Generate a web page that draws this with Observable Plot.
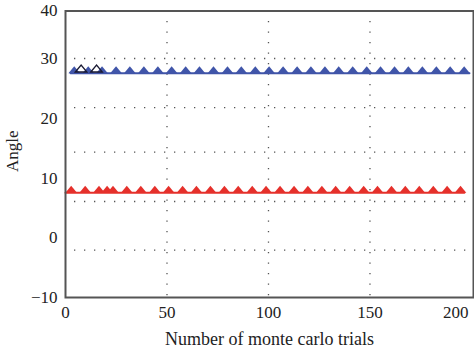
<!DOCTYPE html>
<html><head><meta charset="utf-8">
<script src="https://cdn.jsdelivr.net/npm/d3@7"></script>
<script src="https://cdn.jsdelivr.net/npm/@observablehq/plot@0.6"></script>
<style>body{margin:0;background:#fff} svg{display:block} svg text{font-family:'Liberation Serif','DejaVu Serif',serif}</style>
</head><body><div id="chart"></div>
<script>
// x tick labels and y tick labels
const xTicks = [0, 50, 100, 150];
const xLastTick = [200];
const yTicks = [-10, 0, 10, 20, 30, 40];
// dotted grid positions (as drawn in the reference)
const xGrid = [50, 100, 150];
const yGrid = [30, 21.8, 14.4, 6.1, -2.1];

// series: blue (triangle markers)
const blueTrials = [4.3, 11.2, 18.0, 24.9, 31.7, 38.6, 45.5, 52.3, 59.2, 66.0, 72.9, 79.8, 86.6, 93.5, 100.3, 107.2, 114.1, 120.9, 127.8, 134.6, 141.5, 148.4, 155.2, 162.1, 168.9, 175.8, 182.7, 189.5, 196.4];
const blueAngle = 27.55;
const blueSpan = [2.5, 199];
// series: red (triangle markers)
const redTrials = [2.8, 9.7, 16.5, 20.5, 23.4, 30.2, 37.1, 44.0, 50.8, 57.7, 64.5, 71.4, 78.3, 85.1, 92.0, 98.8, 105.7, 112.6, 119.4, 126.3, 133.1, 140.0, 146.9, 153.7, 160.6, 167.4, 174.3, 181.2, 188.0, 194.6];
const redAngle = 7.58;
const redSpan = [0, 196.5];
// series: black outlined triangles
const blackTrials = [7.7, 15.3];
const blackAngle = 27.75;

const BLUE = "#4055a9", RED = "#e5302b", BLACK = "#1a1a33";
const FONT = "'Liberation Serif', 'DejaVu Serif', serif";
const tri = {draw(ctx) { ctx.moveTo(-5.8, 0); ctx.lineTo(0, -7); ctx.lineTo(5.8, 0); ctx.closePath(); }};

// the reference's y axis labels are unevenly spaced (top interval shorter)
const warp = d3.scaleLinear().domain(yTicks).range([0, 60, 119, 179, 239, 286.5]);

const lineRows = (span, v) => span.map(t => ({t, v}));

const chart = Plot.plot({
  width: 474, height: 351,
  marginLeft: 65, marginRight: 1, marginTop: 10.5, marginBottom: 54,
  style: {fontFamily: FONT, fontSize: "17px", background: "#fff", color: "#222"},
  x: {domain: [0, 201]},
  y: {type: "linear", transform: warp},
  marks: [
    Plot.gridX(xGrid, {stroke: "#555", strokeOpacity: 1, strokeWidth: 1.3, strokeDasharray: "1.3,9.2"}),
    Plot.gridY(yGrid, {stroke: "#555", strokeOpacity: 1, strokeWidth: 1.3, strokeDasharray: "1.3,8.7", strokeDashoffset: -9}),
    Plot.axisY(yTicks, {tickSize: 0, tickPadding: 8, label: null, fontSize: 17, fontFamily: FONT}),
    Plot.axisX(xTicks, {tickSize: 0, tickPadding: 8, label: null, fontSize: 17, fontFamily: FONT}),
    Plot.text(xLastTick, {x: d => d, frameAnchor: "bottom", textAnchor: "end", lineAnchor: "top", dy: 8, dx: -3, fontSize: 17, fontFamily: FONT}),
    Plot.text(["Number of monte carlo trials"], {frameAnchor: "bottom", textAnchor: "middle", dy: 47, fontSize: 18, fontFamily: FONT}),
    Plot.text(["Angle"], {frameAnchor: "left", textAnchor: "middle", rotate: -90, dx: -53, dy: -3, fontSize: 17, fontFamily: FONT}),
    Plot.lineY(lineRows(redSpan, redAngle), {x: "t", y: "v", stroke: RED, strokeWidth: 2}),
    Plot.lineY(lineRows(blueSpan, blueAngle), {x: "t", y: "v", stroke: BLUE, strokeWidth: 2}),
    Plot.dot(redTrials, {x: d => d, y: () => redAngle, symbol: tri, fill: RED, stroke: "none"}),
    Plot.dot(blueTrials, {x: d => d, y: () => blueAngle, symbol: tri, fill: BLUE, stroke: "none"}),
    Plot.dot(blackTrials, {x: d => d, y: () => blackAngle, symbol: tri, fill: "none", stroke: BLACK, strokeWidth: 1.3}),
    Plot.frame({stroke: "#555", strokeWidth: 2})
  ]
});
document.getElementById("chart").append(chart);
</script>
</body></html>
